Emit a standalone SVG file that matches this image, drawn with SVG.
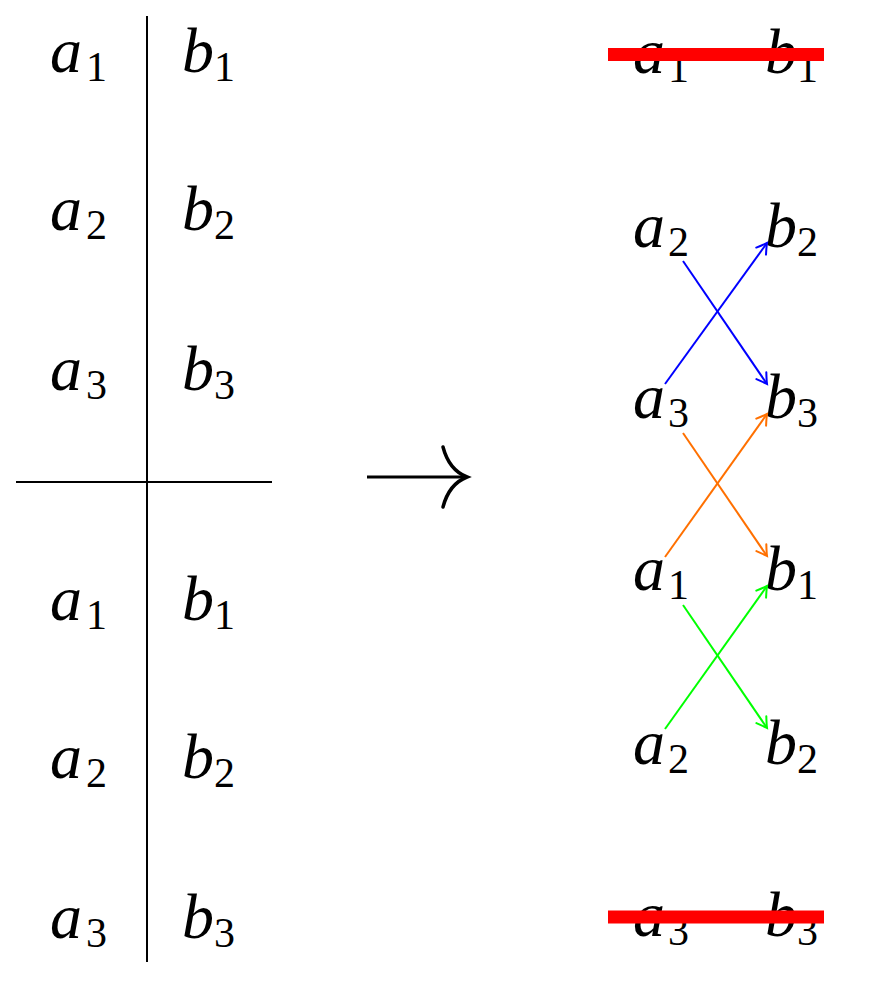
<svg xmlns="http://www.w3.org/2000/svg" width="877" height="991" viewBox="0 0 877 991">
<style>
.v{font-family:"Liberation Serif","Times New Roman",serif;font-style:italic;font-size:64px;fill:#000}
.s{font-family:"Liberation Serif","Times New Roman",serif;font-style:normal;font-size:42px}
.rule{stroke:#000;stroke-width:2;fill:none}
.c{stroke-width:2;fill:none}
.strike{fill:#ff0000}
</style>
<defs>
<marker id="hb" markerUnits="userSpaceOnUse" markerWidth="24" markerHeight="24" viewBox="-12 -12 24 24" refX="0" refY="0" orient="auto"><path d="M-10,-6 Q-3,-1.5 0,0 Q-3,1.5 -10,6" fill="none" stroke="#0000ff" stroke-width="2" stroke-linecap="round"/></marker>
<marker id="ho" markerUnits="userSpaceOnUse" markerWidth="24" markerHeight="24" viewBox="-12 -12 24 24" refX="0" refY="0" orient="auto"><path d="M-10,-6 Q-3,-1.5 0,0 Q-3,1.5 -10,6" fill="none" stroke="#ff7000" stroke-width="2" stroke-linecap="round"/></marker>
<marker id="hg" markerUnits="userSpaceOnUse" markerWidth="24" markerHeight="24" viewBox="-12 -12 24 24" refX="0" refY="0" orient="auto"><path d="M-10,-6 Q-3,-1.5 0,0 Q-3,1.5 -10,6" fill="none" stroke="#00ff00" stroke-width="2" stroke-linecap="round"/></marker>
</defs>
<rect width="877" height="991" fill="#fff"/>

<g id="table">
<line class="rule" x1="147" y1="16" x2="147" y2="962"/>
<line class="rule" x1="16" y1="482" x2="272" y2="482"/>
</g>

<g id="left-labels">
<g id="L1"><text class="v"><tspan x="50" y="72">a</tspan><tspan class="s" x="86" y="81">1</tspan></text><text class="v"><tspan x="182" y="72">b</tspan><tspan class="s" x="214" y="81">1</tspan></text></g>
<g id="L2"><text class="v"><tspan x="50" y="230">a</tspan><tspan class="s" x="86" y="239">2</tspan></text><text class="v"><tspan x="182" y="230">b</tspan><tspan class="s" x="214" y="239">2</tspan></text></g>
<g id="L3"><text class="v"><tspan x="50" y="390">a</tspan><tspan class="s" x="86" y="399">3</tspan></text><text class="v"><tspan x="182" y="390">b</tspan><tspan class="s" x="214" y="399">3</tspan></text></g>
<g id="L4"><text class="v"><tspan x="50" y="620">a</tspan><tspan class="s" x="86" y="629">1</tspan></text><text class="v"><tspan x="182" y="620">b</tspan><tspan class="s" x="214" y="629">1</tspan></text></g>
<g id="L5"><text class="v"><tspan x="50" y="778">a</tspan><tspan class="s" x="86" y="787">2</tspan></text><text class="v"><tspan x="182" y="778">b</tspan><tspan class="s" x="214" y="787">2</tspan></text></g>
<g id="L6"><text class="v"><tspan x="50" y="938">a</tspan><tspan class="s" x="86" y="947">3</tspan></text><text class="v"><tspan x="182" y="938">b</tspan><tspan class="s" x="214" y="947">3</tspan></text></g>
</g>

<g id="big-arrow">
<line x1="367" y1="477" x2="464" y2="477" stroke="#000" stroke-width="3"/>
<path d="M443,447 Q449,470 467,477 Q449,484 443,507" fill="none" stroke="#000" stroke-width="3.5" stroke-linecap="round"/>
</g>

<g id="right-labels">
<g id="R1"><text class="v"><tspan x="633" y="73">a</tspan><tspan class="s" x="668" y="82">1</tspan></text><text class="v"><tspan x="765" y="73">b</tspan><tspan class="s" x="797" y="82">1</tspan></text></g>
<g id="R2"><text class="v"><tspan x="633" y="247">a</tspan><tspan class="s" x="668" y="256">2</tspan></text><text class="v"><tspan x="765" y="247">b</tspan><tspan class="s" x="797" y="256">2</tspan></text></g>
<g id="R3"><text class="v"><tspan x="633" y="418">a</tspan><tspan class="s" x="668" y="427">3</tspan></text><text class="v"><tspan x="765" y="418">b</tspan><tspan class="s" x="797" y="427">3</tspan></text></g>
<g id="R4"><text class="v"><tspan x="633" y="590">a</tspan><tspan class="s" x="668" y="599">1</tspan></text><text class="v"><tspan x="765" y="590">b</tspan><tspan class="s" x="797" y="599">1</tspan></text></g>
<g id="R5"><text class="v"><tspan x="633" y="764">a</tspan><tspan class="s" x="668" y="773">2</tspan></text><text class="v"><tspan x="765" y="764">b</tspan><tspan class="s" x="797" y="773">2</tspan></text></g>
<g id="R6"><text class="v"><tspan x="633" y="936">a</tspan><tspan class="s" x="668" y="945">3</tspan></text><text class="v"><tspan x="765" y="936">b</tspan><tspan class="s" x="797" y="945">3</tspan></text></g>
</g>

<g id="strikes">
<rect class="strike" x="608" y="48" width="216" height="13"/>
<rect class="strike" x="608" y="910.5" width="216" height="13"/>
</g>

<g id="connectors">
<line class="c" stroke="#0000ff" x1="683" y1="261" x2="767" y2="384" marker-end="url(#hb)"/>
<line class="c" stroke="#0000ff" x1="665" y1="384" x2="767" y2="243" marker-end="url(#hb)"/>
<line class="c" stroke="#ff7000" x1="683" y1="433" x2="767" y2="556" marker-end="url(#ho)"/>
<line class="c" stroke="#ff7000" x1="665" y1="557" x2="767" y2="414" marker-end="url(#ho)"/>
<line class="c" stroke="#00ff00" x1="683" y1="605" x2="767" y2="728" marker-end="url(#hg)"/>
<line class="c" stroke="#00ff00" x1="665" y1="729" x2="767" y2="586" marker-end="url(#hg)"/>
</g>
</svg>
